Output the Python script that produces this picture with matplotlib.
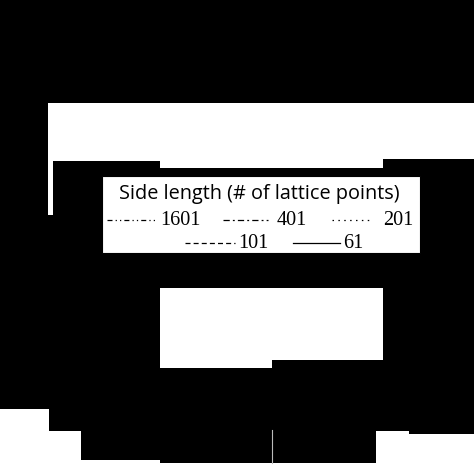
import matplotlib.pyplot as plt
from matplotlib.patches import Rectangle

# legend entries (side length in lattice points)
side_lengths = ["1601", "401", "201", "101", "61"]
legend_title = "Side length (# of lattice points)"

# white (opaque) regions left in the picture, in pixels: x0, y0, x1, y1
white_x0 = [48, 53, 160, 383, 160, 272, 0, 49, 81, 160, 376, 409]
white_y0 = [103, 103, 103, 103, 288, 288, 409, 431, 460, 463, 431, 434]
white_x1 = [53, 160, 383, 474, 272, 383, 49, 81, 160, 376, 409, 474]
white_y1 = [215, 161, 168, 159, 368, 360, 474, 474, 474, 474, 474, 474]

styles = [(0, (4, 2.5, 1, 2.5, 1, 2.5)), (0, (5, 2.5, 1.5, 2.5)), (0, (1.2, 3.5)),
          (0, (4, 2.5)), "-"]
line_x = [(107, 155), (223, 268), (332, 372), (185, 235), (293, 340)]
text_x = [160, 277, 383, 238, 343]
row_y = [220, 220, 220, 243, 243]

fig = plt.figure(figsize=(4.74, 4.74), dpi=100, facecolor="black")
ax = fig.add_axes([0, 0, 1, 1])
ax.set_facecolor("black")
ax.set_xlim(0, 474)
ax.set_ylim(474, 0)
ax.axis("off")

for x0, y0, x1, y1 in zip(white_x0, white_y0, white_x1, white_y1):
    ax.add_patch(Rectangle((x0, y0), x1 - x0, y1 - y0, facecolor="white",
                           edgecolor="none", antialiased=False))
ax.plot([272, 272], [430, 463], color="#bbbbbb", lw=0.8)

# legend box
ax.add_patch(Rectangle((102, 176), 318, 77, facecolor="white",
                       edgecolor="black", lw=0.8))
ax.text(259, 199.5, legend_title, ha="center", va="baseline",
        fontsize=14.3, family="Open Sans", color="black")
for lab, ls, (a, b), tx, y in zip(side_lengths, styles, line_x, text_x, row_y):
    ax.plot([a, b], [y, y], color="black", lw=0.9, linestyle=ls)
    ax.text(tx, y + 5, lab, ha="left", va="baseline",
            fontsize=14.5, family="Liberation Serif", color="black")

fig.savefig("out.png", dpi=100, facecolor="black")
